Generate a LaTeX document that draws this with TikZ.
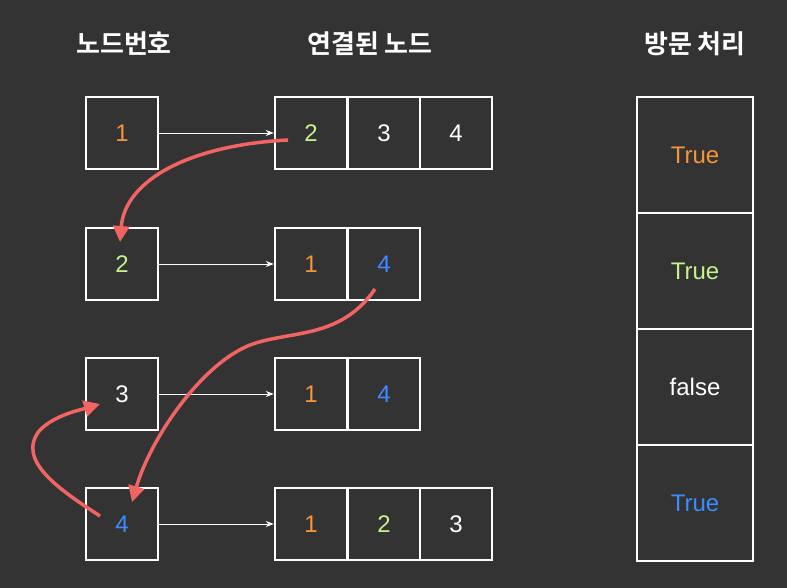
\documentclass[tikz,border=0pt]{standalone}
\usepackage{fontspec}
\setmainfont{Liberation Sans}
\newfontfamily\kr{Noto Sans CJK KR}[BoldFont={* Bold}]
\usetikzlibrary{arrows.meta}
\definecolor{bg}{HTML}{333333}
\definecolor{cor}{HTML}{F7953B}
\definecolor{cgr}{HTML}{C5F28C}
\definecolor{cbl}{HTML}{3D8BFF}
\definecolor{cred}{HTML}{F26464}
\begin{document}
\begin{tikzpicture}[x=1pt,y=-1pt,
  cell/.style={draw=white,line width=2.5pt,minimum width=72pt,minimum height=72pt,inner sep=0pt,font=\fontsize{24}{26}\selectfont,text=white},
  vcell/.style={draw=white,line width=2.5pt,minimum width=116pt,minimum height=116pt,inner sep=0pt,font=\fontsize{24}{26}\selectfont,text=white},
  hdr/.style={text=white,font=\kr\bfseries\fontsize{26}{28}\selectfont},
  link/.style={draw=white,line width=0.8pt,-{Stealth[length=8pt,width=6pt]}},
  red/.style={draw=cred,line width=3.5pt,-{Triangle[length=16pt,width=16pt]}}]
\fill[bg] (0,0) rectangle (787,588);
\useasboundingbox (0,0) rectangle (787,588);
\node[hdr] (h1) at (124,44) {노드번호};
\node[hdr] (h2) at (370,44) {연결된 노드};
\node[hdr] (h3) at (695,44) {방문 처리};
% left column
\node[cell,text=cor] (n1) at (122,133) {1};
\node[cell,text=cgr] (n2) at (122,264) {2};
\node[cell] (n3) at (122,394) {3};
\node[cell,text=cbl] (n4) at (122,524) {4};
% adjacency
\node[cell,text=cgr] (f1) at (311,133) {2};
\node[cell] (a13) at (384,133) {3};
\node[cell] (a14) at (456,133) {4};
\node[cell,text=cor] (f2) at (311,264) {1};
\node[cell,text=cbl] (a24) at (384,264) {4};
\node[cell,text=cor] (f3) at (311,394) {1};
\node[cell,text=cbl] (a34) at (384,394) {4};
\node[cell,text=cor] (f4) at (311,524) {1};
\node[cell,text=cgr] (a42) at (384,524) {2};
\node[cell] (a43) at (456,524) {3};
\foreach \i in {1,2,3,4}{\draw[link] (n\i.east) -- (f\i.west);}
% visited
\node[vcell,text=cor] (v1) at (695,155) {True};
\node[vcell,text=cgr] (v2) at (695,271) {True};
\node[vcell] (v3) at (695,387) {false};
\node[vcell,text=cbl] (v4) at (695,503) {True};
% red traversal
\coordinate (r1) at (288,140);
\coordinate (r2) at (375,289);
\coordinate (r3) at (100,516);
\draw[red] (r1) .. controls (190,145) and (125,180) .. (120,242);
\draw[red] (r2) .. controls (340,340) and (290,330) .. (250,345) .. controls (200,365) and (150,440) .. (132,502);
\draw[red] (r3) .. controls (60,490) and (15,460) .. (40,430) .. controls (55,415) and (80,410) .. (100,404);
\end{tikzpicture}
\end{document}
